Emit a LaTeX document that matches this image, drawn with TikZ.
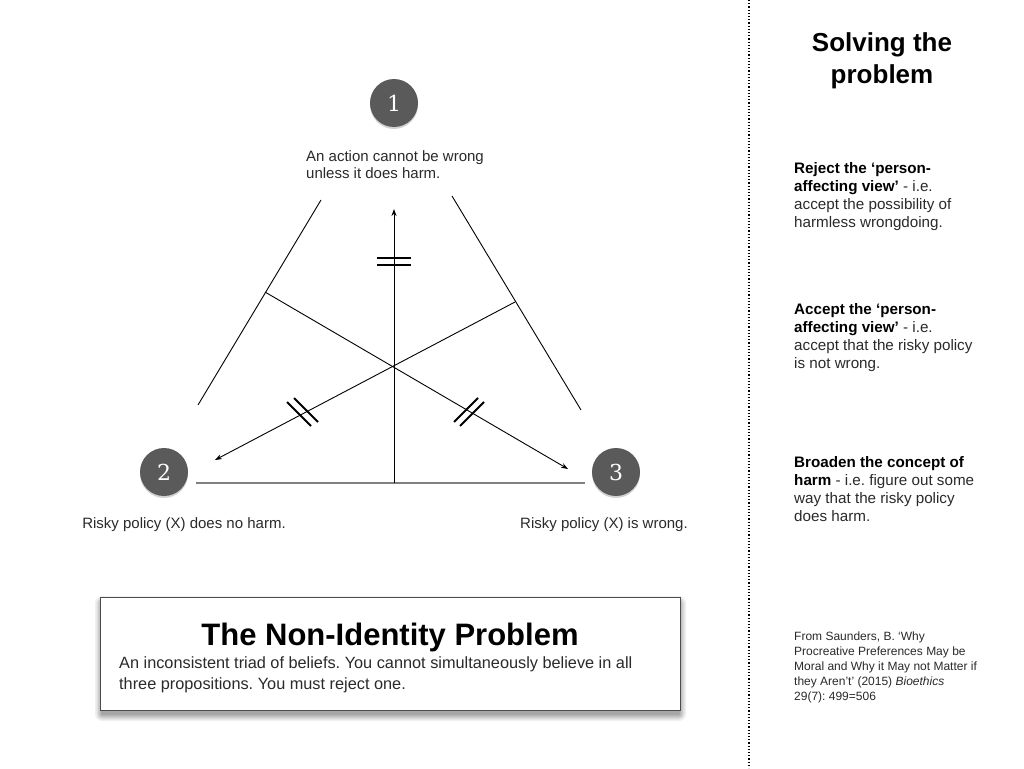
\documentclass[tikz,border=0pt]{standalone}
\usepackage{fontspec}
\setmainfont{Liberation Sans}
\newfontfamily\numfont{DejaVu Serif}
\usetikzlibrary{arrows.meta,shadows}
\definecolor{numgray}{HTML}{5A5A5A}
\definecolor{basegray}{HTML}{808080}
\definecolor{txtgray}{HTML}{2A2A2A}
\frenchspacing
\begin{document}
\begin{tikzpicture}[x=1pt,y=-1pt,
  numcircle/.style={circle,fill=numgray,minimum size=48pt,inner sep=0pt,text=white,
    font=\numfont\fontsize{22}{22}\selectfont,
    drop shadow={shadow xshift=0pt,shadow yshift=-2pt,opacity=0.35}},
  label/.style={anchor=north west,inner sep=0pt,align=left,text=txtgray,
    font=\fontsize{15}{17}\selectfont},
  side/.style={anchor=north west,inner sep=0pt,align=left,text=txtgray,
    font=\fontsize{15.2}{18}\selectfont},
  edge/.style={line width=0.9pt,black},
  arr/.style={line width=0.9pt,black,-{Stealth[length=7pt,width=5pt]}},
  tick/.style={line width=2pt,black}
]
\useasboundingbox (0,0) rectangle (1024,768);
\fill[white] (0,0) rectangle (1024,768);

% number circles
\node[numcircle] (n1) at (394,103) {1};
\node[numcircle] (n2) at (164,472) {2};
\node[numcircle] (n3) at (616,472) {3};

% labels
\node[label] (l1) at (306,150) {An action cannot be wrong\\unless it does harm.};
\node[label,anchor=north] (l2) at (184,517) {Risky policy (X) does no harm.};
\node[label,anchor=north] (l3) at (604,517) {Risky policy (X) is wrong.};

% triangle sides
\coordinate (a1) at (198,405); \coordinate (a2) at (321,200);
\coordinate (b1) at (452,196); \coordinate (b2) at (581,410);
\coordinate (c1) at (196,483); \coordinate (c2) at (585,483);
\draw[edge] (a1) -- (a2);
\draw[edge] (b1) -- (b2);
\draw[line width=2pt,basegray] (c1) -- (c2);

% arrows
\coordinate (v0) at (394,483); \coordinate (v1) at (394,209);
\draw[arr] (v0) -- (v1);
\coordinate (p0) at (265,292); \coordinate (p1) at (568,469);
\draw[arr] (p0) -- (p1);
\coordinate (q0) at (515,302); \coordinate (q1) at (215,460);
\draw[arr] (q0) -- (q1);

% double ticks
\draw[tick] (377,258) -- (411,258);
\draw[tick] (377,265) -- (411,265);
\draw[tick] (287,402) -- (311,426);
\draw[tick] (294,398) -- (318,422);
\draw[tick] (454,422) -- (478,398);
\draw[tick] (460,426) -- (484,402);

% divider
\coordinate (d0) at (749,0); \coordinate (d1) at (749,768);
\draw[line width=1.2pt,dotted] (d0) -- (d1);

% right column
\node[anchor=north,inner sep=0pt,align=center,font=\bfseries\fontsize{26}{32}\selectfont] (title) at (882,32) {Solving the\\problem};
\node[side] (s1) at (794,162) {\textbf{\color{black}Reject the ‘person-}\\\textbf{\color{black}affecting view’} - i.e.\\accept the possibility of\\harmless wrongdoing.};
\node[side] (s2) at (794,303) {\textbf{\color{black}Accept the ‘person-}\\\textbf{\color{black}affecting view’} - i.e.\\accept that the risky policy\\is not wrong.};
\node[side] (s3) at (794,456) {\textbf{\color{black}Broaden the concept of}\\\textbf{\color{black}harm} - i.e. figure out some\\way that the risky policy\\does harm.};
\node[anchor=north west,inner sep=0pt,align=left,text=txtgray,font=\fontsize{12}{15}\selectfont] (cite) at (794,632)
  {From Saunders, B. ‘Why\\Procreative Preferences May be\\Moral and Why it May not Matter if\\they Aren’t’ (2015) \textit{Bioethics}\\29(7): 499=506};

% box shadow (soft)
\foreach \o/\op in {7/0.06,5.5/0.07,4/0.08,2.5/0.09,1/0.10}
  \fill[black,opacity=\op,rounded corners=\o pt] (100-\o+2,597-\o+6) rectangle (680+\o-1,710+\o+4);
\node[draw=black!70,line width=0.8pt,fill=white,minimum width=580pt,minimum height=113pt,anchor=north west] (box) at (100,597) {};
\node[anchor=north,inner sep=0pt,font=\bfseries\fontsize{31}{31}\selectfont] (bt) at (390,623) {The Non-Identity Problem};
\node[anchor=north west,inner sep=0pt,align=left,text=txtgray,font=\fontsize{16.3}{21}\selectfont] (bs) at (119,656)
  {An inconsistent triad of beliefs. You cannot simultaneously believe in all\\three propositions. You must reject one.};
\end{tikzpicture}
\end{document}
